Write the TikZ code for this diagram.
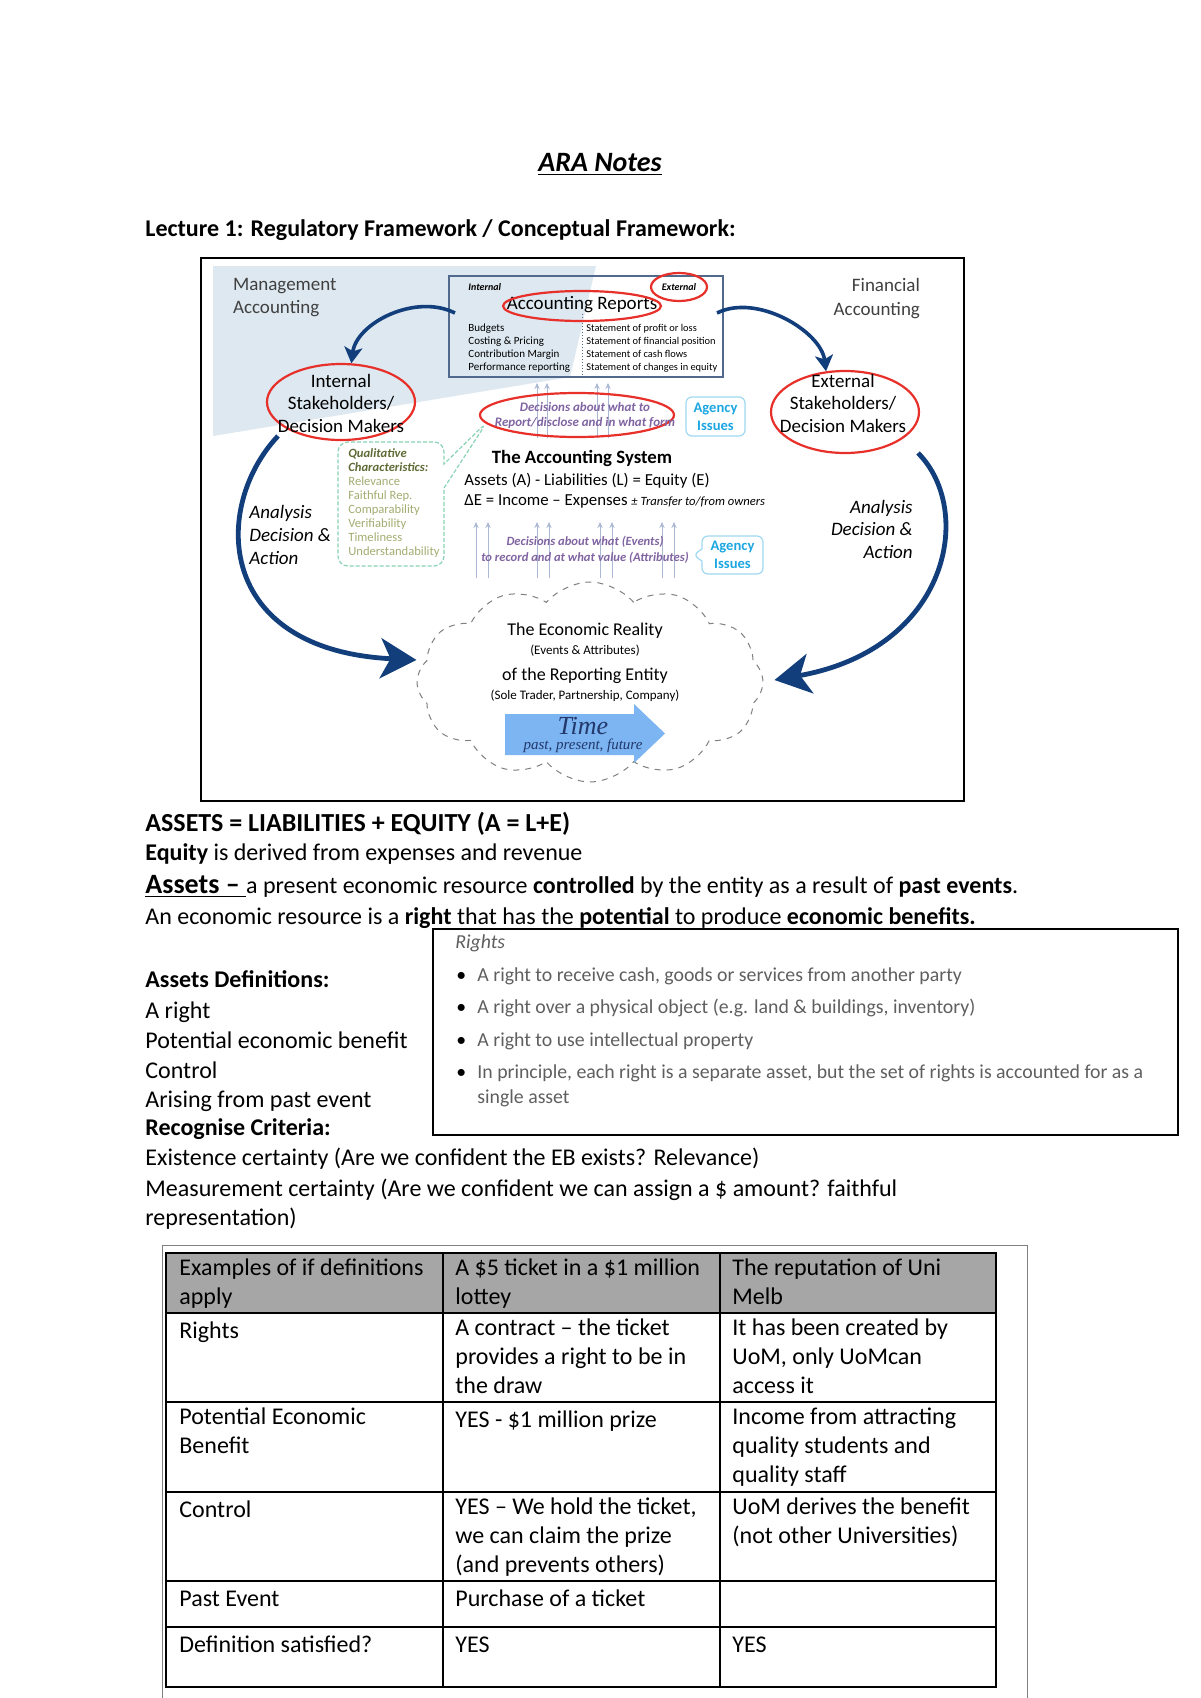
\documentclass[tikz,border=0pt]{standalone}
\usepackage{fontspec}
\setmainfont{Carlito}
\newfontfamily\timefont{Liberation Serif}
\usetikzlibrary{arrows.meta,calc,shapes.geometric,shapes.symbols,shapes.callouts,positioning}

\definecolor{paleblue}{HTML}{DDE8F0}
\definecolor{navyarc}{HTML}{123E7C}
\definecolor{redring}{HTML}{E8302A}
\definecolor{boxline}{HTML}{50698C}
\definecolor{decpurple}{HTML}{8064A2}
\definecolor{agencyblue}{HTML}{1CA7E2}
\definecolor{agencyline}{HTML}{9FD9F2}
\definecolor{mint}{HTML}{8AD3B5}
\definecolor{olivedark}{HTML}{5F6B36}
\definecolor{olivelight}{HTML}{A3AD72}
\definecolor{arrowgray}{HTML}{AAB8D4}
\definecolor{cloudgray}{HTML}{808080}
\definecolor{timeblue}{HTML}{7DB4F2}
\definecolor{timenavy}{HTML}{22386A}
\definecolor{textgray}{HTML}{404040}
\definecolor{rightsgray}{HTML}{5F5F5F}
\definecolor{headgray}{HTML}{A6A6A6}

\newcommand\fsz[2]{\fontsize{#1}{#2}\selectfont}

\tikzset{
  ring/.style={ellipse, draw=redring, line width=1.1pt, inner sep=0pt},
  bodytext/.style={anchor=base west, inner sep=0pt, font=\fsz{12}{14.5}},
  rtext/.style={anchor=base west, inner sep=0pt, font=\fsz{9.9}{11}, text=rightsgray},
  cell/.style={anchor=north west, inner sep=0pt, align=left, font=\fsz{12}{14.5}, execute at begin node=\strut},
  smallup/.style={draw=arrowgray, line width=0.5pt, -{Stealth[length=3pt,width=2.6pt]}},
  smallarc/.style={draw=navyarc, line width=1.8pt, -{Stealth[length=8pt,width=9pt,inset=2pt]}},
  bigarc/.style={draw=navyarc, line width=2.4pt, -{Stealth[length=18pt,width=20pt,inset=5pt]}},
  agency/.style={draw=agencyline, rounded corners=3pt, line width=0.6pt, text=agencyblue, font=\bfseries\fsz{7.3}{9}, align=center, inner sep=0pt},
  decis/.style={text=decpurple, align=center, inner sep=0pt},
  tline/.style={line width=1pt, draw=black}
}

\begin{document}
\begin{tikzpicture}[x=0.5pt,y=-0.5pt]
  \fill[white] (0,0) rectangle (1200,1698);
  \useasboundingbox (0,0) rectangle (1200,1698);

  % heading
  \node[anchor=base, inner sep=0pt, font=\bfseries\itshape\fsz{14}{17}] (title) at (600,171) {\underline{ARA Notes}};
  \node[bodytext, font=\bfseries\fsz{12}{14.5}] (lecture) at (145,236) {Lecture 1: Regulatory Framework / Conceptual Framework:};

  % conceptual framework picture
  \draw[line width=0.7pt] (201,258) rectangle (964,801);
  \fill[paleblue] (213,266) -- (596,266) -- (570,377) -- (213,436) -- cycle;
  \node[anchor=west, align=left, text=textgray, font=\fsz{9.5}{11.5}] (mgmt) at (226,298) {Management\\Accounting};
  \node[anchor=east, align=right, text=textgray, font=\fsz{9.5}{12}] (finacc) at (927,299) {Financial\\Accounting};

  \node[draw=boxline, line width=0.6pt, minimum width=137pt, minimum height=50.5pt, inner sep=0pt] (repbox) at (586,326.5) {};
  \draw[boxline, densely dotted, line width=0.5pt] (582,314) -- (582,377);
  \node[anchor=west, inner sep=0pt, font=\bfseries\itshape\fsz{5}{6}] (intlab) at (468,287) {Internal};
  \node[inner sep=0pt, font=\bfseries\itshape\fsz{5}{6}] (extlab) at (679,287) {External};
  \node[ring, minimum width=28pt, minimum height=14pt] (extlabring) at (679,287) {};
  \node[inner sep=0pt, font=\fsz{9.5}{11}] (reptitle) at (582,305) {Accounting Reports};
  \node[ring, minimum width=79pt, minimum height=15pt] (repring) at (582,306) {};
  \node[anchor=west, align=left, inner sep=0pt, font=\fsz{5.5}{6.5}] (mlist) at (468,348) {Budgets\\Costing \& Pricing\\Contribution Margin\\Performance reporting};
  \node[anchor=west, align=left, inner sep=0pt, font=\fsz{5.2}{6.5}] (flist) at (586,348) {Statement of profit or loss\\Statement of financial position\\Statement of cash flows\\Statement of changes in equity};

  \node[ring, minimum width=74pt, minimum height=38pt] (intring) at (341,402) {};
  \node[align=center, inner sep=0pt, font=\fsz{9.5}{11.25}] (intsh) at (341,403) {Internal\\Stakeholders/\\Decision Makers};
  \node[ring, minimum width=74pt, minimum height=41pt] (extring) at (845,412) {};
  \node[align=center, inner sep=0pt, font=\fsz{9.5}{11.25}] (extsh) at (843,403) {External\\Stakeholders/\\Decision Makers};

  \coordinate (lbeg) at (455,313);
  \coordinate (rbeg) at (717,313);
  \draw[smallarc] (lbeg) .. controls +(-40,-20) and +(5,-40) .. (intring.75);
  \draw[smallarc] (rbeg) .. controls +(40,-20) and +(-5,-40) .. (extring.115);

  \foreach \x in {537,547,597,608}
    \draw[smallup] (\x,438) -- (\x,383);
  \node[ring, minimum width=97pt, minimum height=22pt] (decring) at (577,415) {};
  \node[decis, font=\bfseries\itshape\fsz{6.5}{7.5}] (dectop) at (585,415) {Decisions about what to\\Report/disclose and in what form};
  \node[agency, minimum width=29.5pt, minimum height=19.5pt] (agencyup) at (715.5,416.5) {Agency\\Issues};

  \node[inner sep=0pt, font=\bfseries\fsz{9.4}{12}] (accsys) at (582,458) {The Accounting System};
  \node[anchor=west, inner sep=0pt, font=\fsz{8.4}{10}] (eqone) at (464,481) {Assets (A) - Liabilities (L) = Equity (E)};
  \node[anchor=west, inner sep=0pt, font=\fsz{8.4}{10}] (eqtwo) at (464,501) {ΔE = Income – Expenses {\itshape\fsz{6.3}{7}± Transfer to/from owners}};

  \node[rectangle callout, draw=mint, dash pattern=on 2pt off 1pt, line width=0.6pt, rounded corners=5pt, minimum width=53pt, minimum height=62pt, callout absolute pointer={(487,422)}, callout pointer width=12pt] (qualbox) at (391,504) {};
  \node[anchor=west, align=left, inner sep=0pt, text=olivelight, font=\fsz{6.3}{7}] (qualtxt) at (348,503) {\textcolor{olivedark}{\bfseries\itshape Qualitative}\\\textcolor{olivedark}{\bfseries\itshape Characteristics:}\\Relevance\\Faithful Rep.\\Comparability\\Verifiability\\Timeliness\\Understandability};

  \node[anchor=west, align=left, inner sep=0pt, font=\itshape\fsz{9.5}{11.5}] (anleft) at (249,535) {Analysis\\Decision \&\\Action};
  \node[anchor=east, align=right, inner sep=0pt, font=\itshape\fsz{9.5}{11.25}] (anright) at (913,529) {Analysis\\Decision \&\\Action};

  \foreach \x in {476,488,537,549,600,612,662,674}
    \draw[smallup] (\x,578) -- (\x,522);
  \node[decis, font=\bfseries\itshape\fsz{6.3}{8}] (declow) at (585,550) {Decisions about what (Events)\\to record and at what value (Attributes)};
  \node[agency, rectangle callout, callout absolute pointer={(693,555)}, callout pointer width=6pt, minimum width=30.5pt, minimum height=19pt] (agencylow) at (732.5,555) {Agency\\Issues};

  % economic reality
  \node[cloud, draw=cloudgray, dashed, line width=0.5pt, cloud puffs=12, cloud puff arc=100, aspect=1.75, minimum width=173pt, minimum height=100pt, inner sep=0pt] (cloud) at (590,682) {};
  \node[inner sep=0pt, font=\fsz{9}{10}] (ecoreal) at (585,631) {The Economic Reality};
  \node[inner sep=0pt, font=\fsz{6.5}{8}] (evattr) at (585,651) {(Events \& Attributes)};
  \node[inner sep=0pt, font=\fsz{9}{10}] (repent) at (585,676) {of the Reporting Entity};
  \node[inner sep=0pt, font=\fsz{6.5}{8}] (entkinds) at (585,696) {(Sole Trader, Partnership, Company)};
  \fill[timeblue] (505,714) -- (634,714) -- (634,704) -- (665,733.5) -- (634,763) -- (634,755) -- (505,755) -- cycle;
  \node[inner sep=0pt, text=timenavy, font=\timefont\itshape\fsz{13}{14}] (timelab) at (583,726) {Time};
  \node[inner sep=0pt, text=timenavy, font=\timefont\itshape\fsz{7.5}{9}] (timesub) at (583,746) {past, present, future};

  \coordinate (lstart) at (278,436);
  \coordinate (rstart) at (918,453);
  \draw[bigarc] (lstart) .. controls +(-66,70) and +(-202,-10) .. ($(cloud.west)+(0,-22)$);
  \draw[bigarc] (rstart) .. controls +(57,57) and +(175,-31) .. ($(cloud.east)+(11,-2)$);

  % notes
  \node[bodytext, font=\bfseries\fsz{13}{15}] (aleq) at (145,831) {ASSETS = LIABILITIES + EQUITY (A = L+E)};
  \node[bodytext] (equity) at (145,860) {\textbf{Equity} is derived from expenses and revenue};
  \node[bodytext] (assetdef) at (145,893) {\underline{\fsz{14}{16}\bfseries Assets – }a present economic resource \textbf{controlled} by the entity as a result of \textbf{past events}.};
  \node[bodytext] (ecores) at (145,924) {An economic resource is a \textbf{right} that has the \textbf{potential} to produce \textbf{economic benefits.}};
  \node[bodytext, font=\bfseries\fsz{12}{14.5}] (adefs) at (145,987) {Assets Definitions:};
  \node[bodytext] (aright) at (145,1018) {A right};
  \node[bodytext] (potben) at (145,1048) {Potential economic benefit};
  \node[bodytext] (control) at (145,1078) {Control};
  \node[bodytext] (arising) at (145,1107) {Arising from past event};
  \node[bodytext, font=\bfseries\fsz{12}{14.5}] (recog) at (145,1135) {Recognise Criteria:};
  \node[bodytext] (exist) at (145,1165) {Existence certainty (Are we confident the EB exists? Relevance)};
  \node[bodytext] (measure) at (145,1196) {Measurement certainty (Are we confident we can assign a \$ amount? faithful};
  \node[bodytext] (reprs) at (145,1225) {representation)};

  % rights box
  \node[draw, line width=0.6pt, minimum width=372.5pt, minimum height=103pt, inner sep=0pt] (rightsbox) at (805.5,1032) {};
  \node[rtext, font=\itshape\fsz{9.9}{11}] (rightstitle) at (455,948) {Rights};
  \foreach \y in {981,1013,1046,1078}
    \node[rtext, text=black] at (456,\y) {•};
  \node[rtext] (rone) at (477,981) {A right to receive cash, goods or services from another party};
  \node[rtext] (rtwo) at (477,1013) {A right over a physical object (e.g. land \& buildings, inventory)};
  \node[rtext] (rthree) at (477,1046) {A right to use intellectual property};
  \node[rtext] (rfour) at (477,1078) {In principle, each right is a separate asset, but the set of rights is accounted for as a};
  \node[rtext] (rfourb) at (477,1103) {single asset};

  % examples table
  \draw[gray, line width=0.5pt] (162,1698) -- (162,1245) -- (1027,1245) -- (1027,1698);
  \fill[headgray] (166,1253) rectangle (996,1313);
  \draw[tline] (166,1253) rectangle (996,1687);
  \foreach \y in {1313,1402,1492,1581,1627}
    \draw[tline] (166,\y) -- (996,\y);
  \foreach \x in {443,720}
    \draw[tline] (\x,1253) -- (\x,1687);

  \node[cell] (hone) at (179,1258) {Examples of if definitions\\apply};
  \node[cell] (htwo) at (455,1258) {A \$5 ticket in a \$1 million\\lottey};
  \node[cell] (hthree) at (732,1258) {The reputation of Uni\\Melb};
  \node[cell] (rgone) at (179,1318) {Rights};
  \node[cell] (rgtwo) at (455,1318) {A contract – the ticket\\provides a right to be in\\the draw};
  \node[cell] (rgthree) at (732,1318) {It has been created by\\UoM, only UoMcan\\access it};
  \node[cell] (pbone) at (179,1407) {Potential Economic\\Benefit};
  \node[cell] (pbtwo) at (455,1407) {YES - \$1 million prize};
  \node[cell] (pbthree) at (732,1407) {Income from attracting\\quality students and\\quality staff};
  \node[cell] (ctone) at (179,1497) {Control};
  \node[cell] (cttwo) at (455,1497) {YES – We hold the ticket,\\we can claim the prize\\(and prevents others)};
  \node[cell] (ctthree) at (732,1497) {UoM derives the benefit\\(not other Universities)};
  \node[cell] (peone) at (179,1586) {Past Event};
  \node[cell] (petwo) at (455,1586) {Purchase of a ticket};
  \node[cell] (dsone) at (179,1632) {Definition satisfied?};
  \node[cell] (dstwo) at (455,1632) {YES};
  \node[cell] (dsthree) at (732,1632) {YES};
\end{tikzpicture}
\end{document}
